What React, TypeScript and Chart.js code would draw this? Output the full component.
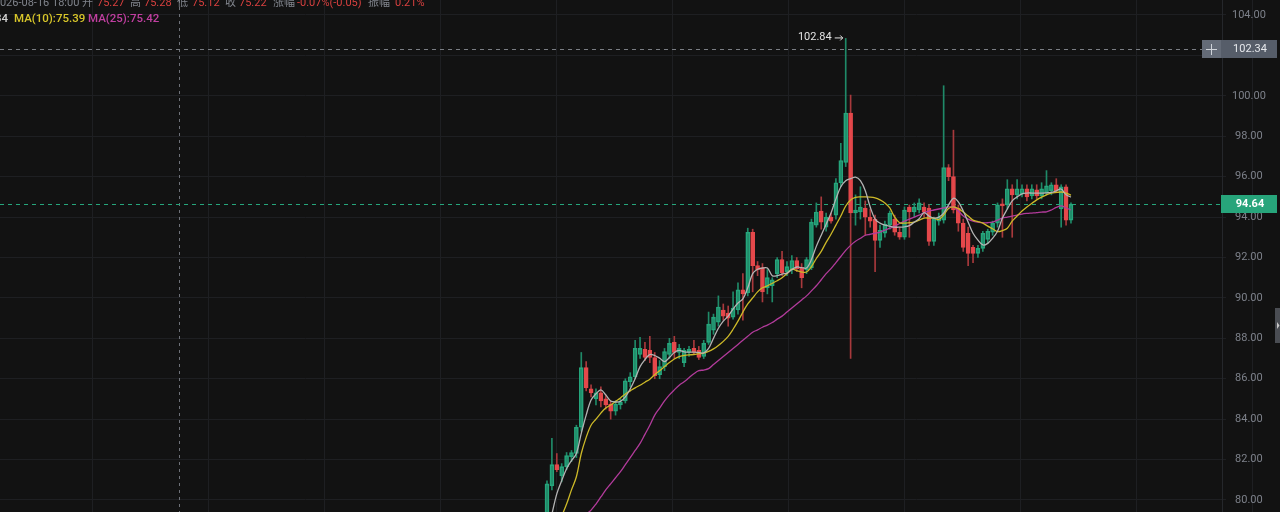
import React, { useEffect, useRef } from 'react';
import { Chart, registerables } from 'chart.js';

Chart.register(...registerables);

// ---------- data ----------
const OPEN = [
  79.2, 80.7, 81.75, 81.2, 81.65, 82.15, 82.3, 83.6, 86.55, 85.5,
  85.0, 85.3, 85.0, 84.75, 84.4, 84.7, 84.9, 85.85, 86.1, 87.2,
  87.45, 87.4, 87.05, 86.2, 86.6, 87.2, 87.8, 87.3, 86.8, 87.3,
  87.5, 87.4, 87.1, 87.8, 88.4, 88.8, 89.4, 89.25, 89.05, 89.4,
  90.4, 90.25, 93.25, 91.6, 91.5, 90.5, 90.6, 91.2, 91.9, 91.3,
  91.4, 91.85, 91.5, 91.4, 91.5, 93.6, 94.3, 93.5, 94.0, 94.1,
  95.7, 96.7, 99.15, 94.2, 94.25, 94.45, 94.0, 93.9, 92.85, 93.2,
  93.6, 93.9, 93.25, 93.0, 94.5, 94.25, 94.35, 94.5, 94.45, 92.8,
  93.8, 93.85, 96.45, 96.0, 94.45, 93.7, 93.2, 92.5, 92.2, 92.45,
  92.9, 93.25, 93.7, 94.65, 94.6, 95.4, 95.1, 95.15, 95.4, 95.05,
  95.35, 95.05, 95.2, 95.3, 95.6, 94.4, 95.5, 93.85,
];
const HIGH = [
  80.95, 83.05, 82.3, 81.8, 82.35, 82.45, 83.7, 87.3, 86.85, 85.7,
  85.5, 85.6, 85.2, 84.9, 84.9, 85.0, 86.0, 86.3, 87.9, 88.05,
  87.8, 88.1, 87.3, 86.9, 87.5, 88.0, 88.1, 87.7, 87.5, 87.6,
  87.9, 87.6, 87.9, 89.3, 89.2, 90.1, 89.7, 89.6, 90.3, 90.75,
  91.2, 93.45, 93.4, 91.8, 91.7, 91.4, 91.0, 92.0, 92.3, 91.8,
  92.1, 92.0, 91.7, 92.0, 93.9, 94.7, 95.0, 94.2, 94.2, 95.9,
  97.65, 102.84, 100.04, 95.1, 95.5, 94.8, 94.4, 94.1, 93.6, 93.8,
  94.3, 94.1, 93.5, 94.5, 94.6, 94.7, 94.9, 94.7, 94.6, 94.0,
  94.2, 100.5, 96.6, 98.3, 94.6, 93.9, 93.5, 92.6, 92.6, 93.3,
  93.4, 93.8, 94.7, 94.9, 95.85, 95.6, 95.85, 95.6, 95.6, 95.6,
  95.6, 95.7, 96.3, 95.7, 95.9, 95.6, 95.6, 94.7,
];
const LOW = [
  79.0, 80.5, 81.4, 80.9, 81.5, 81.9, 82.1, 83.4, 85.4, 85.1,
  84.7, 84.6, 84.5, 84.0, 84.2, 84.5, 84.8, 85.6, 86.0, 87.0,
  86.9, 86.8, 86.0, 86.0, 86.4, 87.0, 87.0, 87.0, 86.6, 87.1,
  87.2, 86.95, 87.0, 87.7, 88.2, 88.6, 88.9, 88.6, 88.95, 89.2,
  88.9, 90.1, 90.3, 91.1, 89.8, 90.2, 89.8, 91.0, 91.1, 91.1,
  91.2, 91.3, 90.5, 91.2, 91.4, 93.5, 93.4, 93.3, 93.7, 93.9,
  95.5, 96.5, 87.0, 93.6, 93.9, 93.1, 93.5, 91.3, 92.5, 93.0,
  93.4, 93.1, 92.9, 92.9, 93.0, 94.0, 94.2, 94.0, 92.6, 92.6,
  93.6, 93.7, 95.8, 94.2, 93.3, 92.3, 91.6, 91.75, 92.0, 92.3,
  92.7, 93.1, 93.5, 93.0, 94.4, 93.0, 94.9, 95.0, 94.8, 94.9,
  94.9, 94.9, 95.1, 95.1, 95.2, 93.5, 93.6, 93.7,
];
const CLOSE = [
  80.8, 81.75, 81.5, 81.65, 82.2, 82.35, 83.6, 86.55, 85.55, 85.3,
  85.3, 84.9, 84.7, 84.4, 84.75, 84.85, 85.9, 86.1, 87.5, 87.5,
  87.05, 87.05, 86.15, 86.6, 87.35, 87.75, 87.3, 87.5, 87.4, 87.45,
  87.3, 87.05, 87.75, 88.7, 89.05, 89.55, 89.1, 89.0, 89.5, 90.4,
  90.2, 93.25, 91.6, 91.4, 90.3, 91.0, 90.9, 91.9, 91.25, 91.55,
  91.85, 91.45, 91.0, 91.9, 93.75, 94.25, 93.75, 94.0, 93.8, 95.7,
  96.8, 99.15, 94.2, 94.35, 94.5, 94.0, 93.8, 92.85, 93.35, 93.65,
  94.2, 93.25, 93.0, 94.35, 94.25, 94.5, 94.7, 94.25, 92.8, 93.9,
  94.0, 96.45, 96.0, 94.35, 93.7, 92.5, 92.2, 92.2, 92.45, 93.2,
  93.3, 93.7, 94.6, 94.55, 95.4, 95.1, 95.4, 95.4, 95.0, 95.4,
  95.05, 95.4, 95.55, 95.6, 95.3, 95.5, 93.85, 94.64,
];
const MA5 = [
  null, 79.3, 80.3, 80.95, 81.55, 81.95, 82.3, 83.3, 84.2, 84.95,
  85.25, 85.45, 85.2, 84.9, 84.85, 84.88, 85.1, 85.5, 86.0, 86.6,
  86.95, 87.2, 87.15, 87.02, 86.85, 87.05, 87.3, 87.4, 87.33, 87.32,
  87.32, 87.3, 87.28, 87.5, 88.0, 88.5, 88.85, 89.1, 89.45, 89.75,
  89.95, 90.5, 91.2, 91.42, 91.48, 91.48, 91.1, 91.1, 91.18, 91.23,
  91.4, 91.53, 91.5, 91.48, 91.9, 92.55, 93.1, 93.65, 94.2, 94.9,
  95.5, 95.8, 95.9, 95.98, 95.8, 95.3, 94.5, 93.9, 93.7, 93.6,
  93.55, 93.5, 93.5, 93.52, 93.58, 93.75, 93.92, 94.22, 94.05, 93.95,
  94.0, 94.2, 94.6, 94.93, 94.75, 94.3, 93.75, 93.2, 92.86, 92.62,
  92.7, 92.95, 93.3, 93.95, 94.4, 94.8, 95.0, 95.15, 95.19, 95.19,
  95.19, 95.19, 95.2, 95.22, 95.3, 95.39, 95.1, 94.99,
];
const MA10 = [
  null, null, null, 79.2, 79.8, 80.5, 81.15, 82.3, 83.1, 83.7,
  84.0, 84.3, 84.55, 84.7, 84.88, 85.05, 85.25, 85.4, 85.55, 85.68,
  85.83, 85.98, 86.2, 86.4, 86.6, 86.8, 86.98, 87.1, 87.15, 87.18,
  87.2, 87.24, 87.27, 87.35, 87.48, 87.65, 87.85, 88.1, 88.45, 88.85,
  89.3, 89.7, 90.0, 90.3, 90.5, 90.6, 90.72, 90.85, 91.0, 91.2,
  91.42, 91.35, 91.28, 91.28, 91.55, 91.95, 92.3, 92.75, 93.15, 93.6,
  94.05, 94.55, 94.85, 94.97, 95.0, 95.0, 94.99, 94.95, 94.85, 94.7,
  94.45, 94.0, 93.72, 93.7, 93.72, 93.75, 93.85, 93.95, 93.95, 93.95,
  93.88, 94.1, 94.42, 94.5, 94.42, 94.25, 94.05, 93.85, 93.78, 93.7,
  93.55, 93.42, 93.28, 93.33, 93.45, 93.8, 94.05, 94.3, 94.5, 94.68,
  94.85, 94.99, 95.1, 95.19, 95.22, 95.24, 95.19, 95.09,
];
const MA25 = [
  null, null, null, null, null, null, null, null, 79.3, 79.5,
  79.8, 80.15, 80.5, 80.8, 81.1, 81.4, 81.75, 82.1, 82.45, 82.8,
  83.25, 83.7, 84.2, 84.55, 84.9, 85.2, 85.45, 85.68, 85.85, 86.05,
  86.25, 86.4, 86.43, 86.5, 86.7, 86.9, 87.1, 87.3, 87.5, 87.7,
  87.9, 88.1, 88.3, 88.42, 88.55, 88.65, 88.78, 88.95, 89.1, 89.3,
  89.5, 89.7, 89.9, 90.1, 90.35, 90.6, 90.9, 91.2, 91.45, 91.75,
  92.05, 92.35, 92.6, 92.8, 92.95, 93.1, 93.15, 93.2, 93.26, 93.35,
  93.45, 93.55, 93.68, 93.8, 93.9, 94.0, 94.1, 94.22, 94.3, 94.35,
  94.4, 94.45, 94.5, 94.5, 94.3, 94.05, 93.9, 93.8, 93.75, 93.72,
  93.72, 93.75, 93.85, 93.95, 94.0, 94.05, 94.1, 94.15, 94.18, 94.2,
  94.22, 94.25, 94.26, 94.35, 94.48, 94.55, 94.45, 94.35,
];
const CROSSHAIR_INDEX = -75.15;
const CROSSHAIR_PRICE = 102.34;
const Y_MIN = 79.406;
const Y_MAX = 104.742;
const Y_STEP = 2;
const X_MIN = -111.7;
const X_MAX = 137.84;
const X_GRID_START = -92.91;
const X_GRID_STEP = 23.69;
const X_GRID_COUNT = 11;

const HEADER_ROW1: [number, string, boolean][] = [
  [-6.3, '2026-08-16 18:00', false],
  [82, '开', false], [97, '75.27', true],
  [130, '高', false], [144, '75.28', true],
  [177, '低', false], [192, '75.12', true],
  [225, '收', false], [239, '75.22', true],
  [273, '涨幅', false], [297, '-0.07%(-0.05)', true],
  [368, '振幅', false], [395, '0.21%', true],
];
const MA_LABELS = ['MA(5):75.34', 'MA(10):75.39', 'MA(25):75.42'];

// ---------- styles ----------
const BG = '#121212';
const GRID = '#1e1f22';
const UP = '#26a67c';
const UP_FILL = 'rgba(38,166,124,0.28)';
const UP_WICK = '#1f8a68';
const DOWN = '#e5484b';
const DOWN_WICK = '#a8393c';
const MA5_COLOR = '#b4b4b4';
const MA10_COLOR = '#cdb928';
const MA25_COLOR = '#b23b9b';
const FONT = 'Roboto, "Noto Sans CJK SC", "Noto Sans", sans-serif';

const overlayPlugin = {
  id: 'overlay',
  beforeDatasetsDraw(chart: any) {
    const { ctx, chartArea: a, scales } = chart;
    const xS = scales.x, yS = scales.y;
    ctx.save();
    // vertical crosshair
    const cx = Math.round(xS.getPixelForValue(CROSSHAIR_INDEX)) + 0.5;
    ctx.strokeStyle = '#6e7178';
    ctx.lineWidth = 1;
    ctx.setLineDash([3, 4]);
    ctx.beginPath();
    ctx.moveTo(cx, 0);
    ctx.lineTo(cx, chart.height);
    ctx.stroke();
    // horizontal crosshair
    const cy = Math.round(yS.getPixelForValue(CROSSHAIR_PRICE)) + 0.5;
    ctx.strokeStyle = '#7a7d83';
    ctx.setLineDash([4, 4]);
    ctx.beginPath();
    ctx.moveTo(a.left, cy);
    ctx.lineTo(a.right - 20, cy);
    ctx.stroke();
    // last price line
    const last = CLOSE[CLOSE.length - 1];
    const ly = Math.round(yS.getPixelForValue(last)) + 0.5;
    ctx.strokeStyle = '#26a67c';
    ctx.setLineDash([4, 4]);
    ctx.beginPath();
    ctx.moveTo(a.left, ly);
    ctx.lineTo(a.right, ly);
    ctx.stroke();
    ctx.restore();
  },
  afterDraw(chart: any) {
    const { ctx, chartArea: a, scales } = chart;
    const xS = scales.x, yS = scales.y;
    ctx.save();
    ctx.setLineDash([]);
    // max high label
    let mi = 0;
    HIGH.forEach((h, i) => { if (h > HIGH[mi]) mi = i; });
    const mx = xS.getPixelForValue(mi);
    const my = yS.getPixelForValue(HIGH[mi]) - 1;
    ctx.font = `11px ${FONT}`;
    ctx.fillStyle = '#e2e2e2';
    ctx.textAlign = 'right';
    ctx.textBaseline = 'middle';
    ctx.fillText(HIGH[mi].toFixed(2), mx - 14, my);
    ctx.strokeStyle = '#e2e2e2';
    ctx.lineWidth = 1;
    ctx.beginPath();
    ctx.moveTo(mx - 11, my + 0.5);
    ctx.lineTo(mx - 3, my + 0.5);
    ctx.moveTo(mx - 5.5, my - 2);
    ctx.lineTo(mx - 3, my + 0.5);
    ctx.lineTo(mx - 5.5, my + 3);
    ctx.stroke();

    const boxL = a.right - 1;
    const boxW = 56;
    // crosshair price box
    const cy = Math.round(yS.getPixelForValue(CROSSHAIR_PRICE));
    ctx.fillStyle = '#646b77';
    ctx.fillRect(boxL - 19, cy - 9, 19, 18);
    ctx.fillStyle = '#565d69';
    ctx.fillRect(boxL, cy - 9, boxW, 18);
    ctx.strokeStyle = '#cfd3d9';
    ctx.beginPath();
    ctx.moveTo(boxL - 15, cy + 0.5);
    ctx.lineTo(boxL - 4, cy + 0.5);
    ctx.moveTo(boxL - 9.5, cy - 5);
    ctx.lineTo(boxL - 9.5, cy + 6);
    ctx.stroke();
    ctx.fillStyle = '#e6e8ec';
    ctx.textAlign = 'center';
    ctx.font = `11px ${FONT}`;
    ctx.fillText(CROSSHAIR_PRICE.toFixed(2), boxL + boxW / 2 + 1, cy + 0.5);
    // last price box
    const last = CLOSE[CLOSE.length - 1];
    const ly = Math.round(yS.getPixelForValue(last));
    ctx.fillStyle = '#27a57b';
    ctx.fillRect(boxL, ly - 9, boxW, 18);
    ctx.fillStyle = '#ffffff';
    ctx.font = `bold 11px ${FONT}`;
    ctx.fillText(last.toFixed(2), boxL + boxW / 2 + 1, ly + 0.5);
    // right side tab
    ctx.fillStyle = '#4a4d53';
    ctx.fillRect(chart.width - 5, 308, 5, 35);
    ctx.fillStyle = '#c8c8c8';
    ctx.beginPath();
    ctx.moveTo(chart.width - 3, 322);
    ctx.lineTo(chart.width - 0.5, 325.5);
    ctx.lineTo(chart.width - 3, 329);
    ctx.fill();
    ctx.restore();
  },
};

export default function App() {
  const ref = useRef<HTMLCanvasElement>(null);

  useEffect(() => {
    if (!ref.current) return;
    const up = CLOSE.map((c, i) => c >= OPEN[i]);
    const bodies = CLOSE.map((c, i) => ({ x: i, y: [Math.min(OPEN[i], c), Math.max(OPEN[i], c)] }));
    const wicks = HIGH.map((h, i) => ({ x: i, y: [LOW[i], h] }));
    const line = (arr: (number | null)[]) => arr.map((v, i) => ({ x: i, y: v }));

    const chart = new Chart(ref.current, {
      type: 'bar',
      data: {
        datasets: [
          { type: 'line', label: 'MA5', data: line(MA5) as any, borderColor: MA5_COLOR, borderWidth: 1.3, pointRadius: 0, tension: 0.35, order: 0 },
          { type: 'line', label: 'MA10', data: line(MA10) as any, borderColor: MA10_COLOR, borderWidth: 1.3, pointRadius: 0, tension: 0.35, order: 0 },
          { type: 'line', label: 'MA25', data: line(MA25) as any, borderColor: MA25_COLOR, borderWidth: 1.3, pointRadius: 0, tension: 0.35, order: 0 },
          {
            type: 'bar', label: 'body', data: bodies as any,
            backgroundColor: up.map((u) => (u ? UP_FILL : DOWN)),
            borderColor: up.map((u) => (u ? UP : DOWN)),
            borderWidth: 1, borderSkipped: false, barThickness: 4, minBarLength: 1,
            grouped: false, order: 1,
          } as any,
          {
            type: 'bar', label: 'wick', data: wicks as any,
            backgroundColor: up.map((u) => (u ? UP_WICK : DOWN_WICK)),
            barThickness: 1, grouped: false, order: 2,
          } as any,
        ],
      },
      options: {
        animation: false,
        responsive: true,
        maintainAspectRatio: false,
        events: [],
        layout: { padding: 0 },
        plugins: { legend: { display: false }, tooltip: { enabled: false } },
        scales: {
          x: {
            type: 'linear', min: X_MIN, max: X_MAX, offset: false,
            grid: { color: GRID, drawTicks: false, offset: false },
            border: { display: false },
            ticks: { display: false },
            afterBuildTicks: (s: any) => {
              s.ticks = Array.from({ length: X_GRID_COUNT }, (_, k) => ({ value: X_GRID_START + k * X_GRID_STEP }));
            },
            afterFit: (s: any) => { s.paddingLeft = 0; s.paddingRight = 0; s.height = 0; },
          },
          y: {
            type: 'linear', position: 'right', min: Y_MIN, max: Y_MAX,
            grid: { color: GRID, drawTicks: true, tickLength: 4 },
            border: { display: true, color: '#25272b' },
            ticks: {
              stepSize: Y_STEP, includeBounds: false, color: '#7d818a', padding: 6,
              crossAlign: 'center', font: { family: FONT, size: 11 },
              callback: (v: any) => Number(v).toFixed(2),
            },
            afterFit: (s: any) => { s.width = 58; s.paddingTop = 0; s.paddingBottom = 0; },
          },
        },
      } as any,
      plugins: [overlayPlugin],
    });
    return () => chart.destroy();
  }, []);

  const gray = '#80848c';
  const red = '#d8403f';
  return (
    <div style={{ position: 'absolute', left: 0, top: 0, width: 1280, height: 512, background: BG, overflow: 'hidden', fontFamily: FONT }}>
      <canvas ref={ref} />
      <div style={{ position: 'absolute', left: 0, top: 0, width: 1280, height: 30, pointerEvents: 'none' }}>
        {HEADER_ROW1.map(([left, text, isVal], i) => (
          <span key={i} style={{ position: 'absolute', left, top: -4, fontSize: 11, lineHeight: '13px', whiteSpace: 'nowrap', color: isVal ? red : gray }}>{text}</span>
        ))}
        <span style={{ position: 'absolute', right: 1272, top: 10.5, fontSize: 11.5, lineHeight: '14px', fontWeight: 500, whiteSpace: 'nowrap', color: '#d2d2d2' }}>{MA_LABELS[0]}</span>
        <span style={{ position: 'absolute', left: 14, top: 10.5, fontSize: 11.5, lineHeight: '14px', fontWeight: 500, whiteSpace: 'nowrap', color: '#d8c62a' }}>{MA_LABELS[1]}</span>
        <span style={{ position: 'absolute', left: 88, top: 10.5, fontSize: 11.5, lineHeight: '14px', fontWeight: 500, whiteSpace: 'nowrap', color: '#c03fa0' }}>{MA_LABELS[2]}</span>
      </div>
    </div>
  );
}
